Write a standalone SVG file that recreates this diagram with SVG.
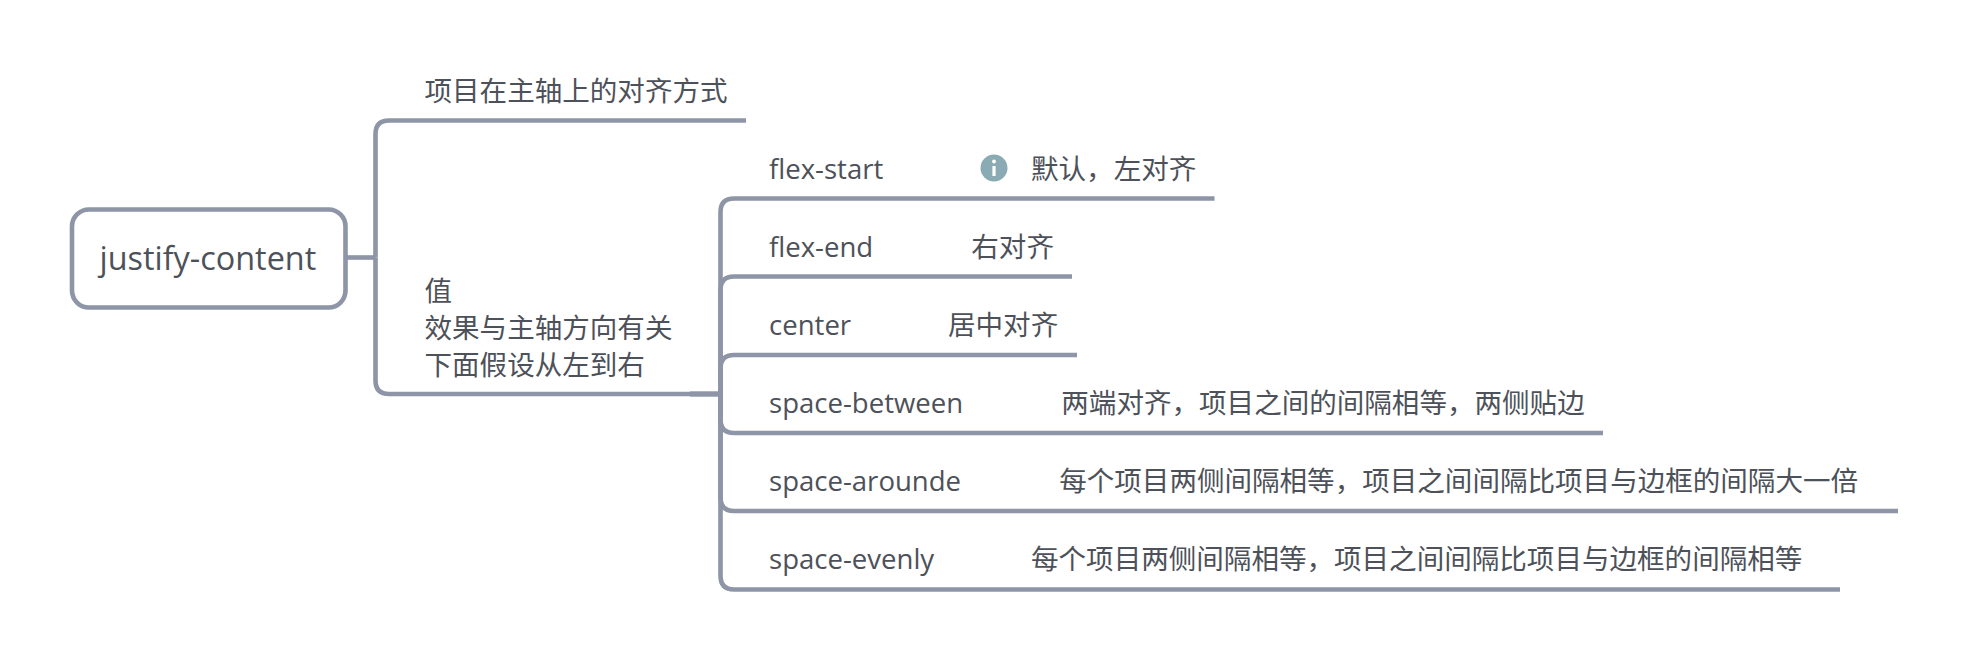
<svg xmlns="http://www.w3.org/2000/svg" width="1984" height="664" viewBox="0 0 1984 664">
<style>
text{font-family:"Open Sans","Noto Sans CJK SC",sans-serif;font-size:27.55px;fill:#4d5159}
.c{fill:none;stroke:#8d95a6;stroke-width:4.6}
</style>
<rect width="1984" height="664" fill="#fff"/>
<g id="connectors" class="c">
<path d="M346 257.500H375.500"/>
<path d="M375.500 257.500V134Q375.500 120.500 389 120.500H746"/>
<path d="M375.500 257.500V380.500Q375.500 394 389 394H720.500"/>
<path d="M690 394H720.500" stroke-width="5.200"/>
<path d="M720.500 394V212Q720.500 198.500 734 198.500H1214.500"/>
<path d="M720.500 394V290Q720.500 276.500 734 276.500H1072"/>
<path d="M720.500 394V368.500Q720.500 355 734 355H1077"/>
<path d="M720.500 394V419.500Q720.500 433 734 433H1603"/>
<path d="M720.500 394V497.500Q720.500 511 734 511H1898"/>
<path d="M720.500 394V575.500Q720.500 589.500 734 589.500H1840"/>
</g>
<g id="root"><rect x="72" y="209.500" width="273.500" height="98" rx="17" fill="#fff" stroke="#8d95a6" stroke-width="4.600"/><text x="99.500" y="269.500" style="font-size:32.400px">justify-content</text></g>
<g id="n1"><text x="424.500" y="101">项目在主轴上的对齐方式</text></g>
<g id="n2"><text x="424.500" y="301">值</text><text x="424.500" y="338">效果与主轴方向有关</text><text x="424.500" y="375">下面假设从左到右</text></g>
<g id="n3"><text x="769" y="179">flex-start</text><circle cx="994" cy="168" r="13.500" fill="#8aabb3"/><rect x="992.400" y="166" width="3.200" height="10" fill="#fff"/><circle cx="994" cy="161.500" r="1.900" fill="#fff"/><text x="1031" y="179">默认，左对齐</text></g>
<g id="n4"><text x="769" y="257">flex-end</text><text x="971.300" y="257">右对齐</text></g>
<g id="n5"><text x="769" y="335">center</text><text x="948" y="335">居中对齐</text></g>
<g id="n6"><text x="769" y="413">space-between</text><text x="1061.300" y="413">两端对齐，项目之间的间隔相等，两侧贴边</text></g>
<g id="n7"><text x="769" y="491">space-arounde</text><text x="1059.200" y="491">每个项目两侧间隔相等，项目之间间隔比项目与边框的间隔大一倍</text></g>
<g id="n8"><text x="769" y="569">space-evenly</text><text x="1031" y="569">每个项目两侧间隔相等，项目之间间隔比项目与边框的间隔相等</text></g>
</svg>
